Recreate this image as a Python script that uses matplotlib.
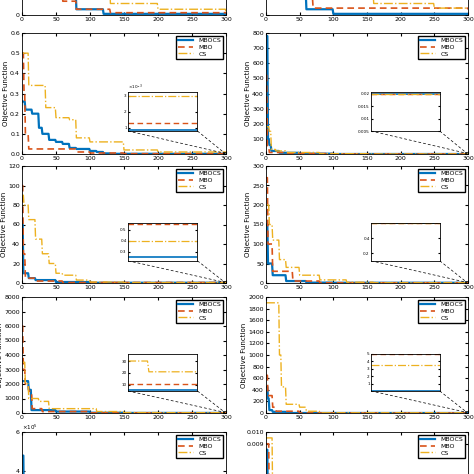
import matplotlib
matplotlib.use("Agg")
import matplotlib.pyplot as plt
import numpy as np

BLUE = "#0072BD"
RED = "#D95319"
YEL = "#EDB120"

plt.rcParams.update({
    "font.family": "DejaVu Sans",
    "xtick.labelsize": 4.5,
    "ytick.labelsize": 4.5,
    "axes.linewidth": 0.6,
    "xtick.direction": "in",
    "ytick.direction": "in",
    "xtick.major.size": 2,
    "ytick.major.size": 2,
})

# (iteration, value) breakpoints of the convergence curves, per panel
panels = [
    # row 0 (cut off at top)
    dict(ylim=(0, 1.0), yticks=[0],
         mbocs=[(0, 2.0), (25, 0.6), (40, 0.35), (50, 0.2), (80, 0.05), (120, 0.01)],
         mbo=[(0, 2.0), (10, 0.9), (25, 0.6), (40, 0.3), (60, 0.12), (80, 0.05), (130, 0.02)],
         cs=[(0, 2.0), (40, 1.5), (90, 0.45), (100, 0.3), (130, 0.1), (200, 0.05), (300, 0.03)],
         inset=None),
    dict(ylim=(0, 1.0), yticks=[0],
         mbocs=[(0, 2.0), (18, 0.7), (30, 0.4), (40, 0.2), (60, 0.05), (100, 0.01)],
         mbo=[(0, 2.0), (12, 0.8), (20, 0.25), (40, 0.15), (70, 0.06), (300, 0.05)],
         cs=[(0, 2.0), (60, 0.8), (90, 0.4), (120, 0.2), (160, 0.1), (250, 0.06)],
         inset=None),
    # row 1
    dict(ylim=(0, 0.6), yticks=[0, 0.1, 0.2, 0.3, 0.4, 0.5, 0.6],
         mbocs=[(0, 0.26), (5, 0.22), (15, 0.2), (25, 0.13), (30, 0.1), (40, 0.07), (50, 0.06),
                (60, 0.05), (70, 0.03), (80, 0.025), (100, 0.015), (110, 0.01), (120, 0.003), (130, 0.001)],
         mbo=[(0, 0.5), (3, 0.3), (5, 0.1), (10, 0.025), (80, 0.01), (100, 0.005), (150, 0.0015)],
         cs=[(0, 0.5), (10, 0.34), (35, 0.23), (50, 0.18), (70, 0.17), (80, 0.08), (100, 0.06),
             (150, 0.02), (200, 0.01), (300, 0.003)],
         inset=(0.0008, 0.0032, [1e-3, 2e-3, 3e-3], ["1", "2", "3"], r"$\times10^{-3}$",
                [(295, 0.00085)], [(295, 0.0013)], [(295, 0.003)])),
    dict(ylim=(0, 800), yticks=[0, 100, 200, 300, 400, 500, 600, 700, 800],
         mbocs=[(0, 780), (3, 100), (5, 60), (8, 20), (20, 8), (50, 2), (100, 0.02)],
         mbo=[(0, 520), (2, 50), (5, 10), (30, 3), (100, 0.02)],
         cs=[(0, 180), (5, 150), (8, 30), (15, 20), (30, 10), (80, 2), (150, 0.02)],
         inset=(0.005, 0.0205, [0.005, 0.01, 0.015, 0.02], ["0.005", "0.01", "0.015", "0.02"], None,
                [(295, 0.02)], [(295, 0.02)], [(295, 0.02)])),
    # row 2
    dict(ylim=(0, 120), yticks=[0, 20, 40, 60, 80, 100, 120],
         mbocs=[(0, 60), (2, 10), (10, 5), (20, 3), (50, 1), (100, 0.25)],
         mbo=[(0, 100), (2, 30), (5, 5), (20, 2), (60, 0.5)],
         cs=[(0, 90), (3, 80), (10, 65), (20, 45), (30, 30), (40, 20), (50, 10), (60, 8),
             (80, 3), (100, 1), (150, 0.4)],
         inset=(0.22, 0.56, [0.3, 0.4, 0.5], ["0.3", "0.4", "0.5"], None,
                [(295, 0.25)], [(295, 0.55)], [(295, 0.4)])),
    dict(ylim=(0, 300), yticks=[0, 50, 100, 150, 200, 250, 300],
         mbocs=[(0, 150), (3, 50), (10, 20), (30, 5), (60, 1), (100, 0.6)],
         mbo=[(0, 270), (3, 100), (10, 30), (40, 5), (80, 0.6)],
         cs=[(0, 200), (5, 150), (10, 110), (20, 60), (30, 40), (50, 20), (80, 8), (120, 2), (160, 0.6)],
         inset=(0.1, 0.6, [0.2, 0.4], ["0.2", "0.4"], None,
                [(295, 0.6)], [(295, 0.6)], [(295, 0.6)])),
    # row 3
    dict(ylim=(0, 8000), yticks=[0, 1000, 2000, 3000, 4000, 5000, 6000, 7000, 8000],
         mbocs=[(0, 2200), (10, 1600), (14, 200), (50, 100), (100, 20), (150, 5)],
         mbo=[(0, 6000), (2, 3000), (5, 2000), (10, 1500), (15, 300), (30, 100), (100, 11)],
         cs=[(0, 3500), (5, 2000), (10, 1000), (25, 800), (40, 300), (110, 100), (150, 30), (200, 21)],
         inset=(5, 36, [10, 20, 30], ["10", "20", "30"], None,
                [(295, 6)], [(295, 11)], [(295, 30), (296.5, 21)])),
    dict(ylim=(0, 2000), yticks=[0, 200, 400, 600, 800, 1000, 1200, 1400, 1600, 1800, 2000],
         mbocs=[(0, 450), (3, 250), (5, 50), (10, 20), (30, 0.5), (60, 0)],
         mbo=[(0, 650), (3, 300), (10, 100), (15, 30), (50, 1), (100, 0)],
         cs=[(0, 1900), (20, 1000), (23, 450), (30, 150), (50, 100), (60, 30), (80, 3.5)],
         inset=(0, 5, [1, 2, 3, 4, 5], ["1", "2", "3", "4", "5"], None,
                [(295, 0)], [(295, 5)], [(295, 3.5)])),
    # row 4 (cut off at bottom)
    dict(ylim=(0, 6e5), yticks=[4e5, 6e5], sci=True,
         mbocs=[(0, 4.8e5), (3, 1e5), (10, 1e4)],
         mbo=[(0, 3e5), (5, 5e4)],
         cs=[(0, 2e5), (10, 5e4)],
         inset=None),
    dict(ylim=(0, 0.01), yticks=[0.009, 0.01],
         mbocs=[(0, 0.0085), (3, 0.002)],
         mbo=[(0, 0.009), (5, 0.003)],
         cs=[(0, 0.0095), (10, 0.004)],
         inset=None),
]

iters = np.arange(0, 301)


def curve(bp):
    xs = np.array([b[0] for b in bp])
    ys = np.array([b[1] for b in bp])
    idx = np.searchsorted(xs, iters, side="right") - 1
    return ys[idx]


W = H = 474
fig = plt.figure(figsize=(4.74, 4.74), dpi=100)
cols = [(22, 226), (266, 468)]
rows = [(-100, 15), (33, 154), (166, 283), (297, 413), (432, 550)]

for i, p in enumerate(panels):
    r, c = divmod(i, 2)
    (x0, x1), (t, b) = cols[c], rows[r]
    ax = fig.add_axes([x0 / W, 1 - b / H, (x1 - x0) / W, (b - t) / H])
    ax.plot(iters, curve(p["mbocs"]), color=BLUE, lw=1.6, label="MBOCS")
    ax.plot(iters, curve(p["mbo"]), color=RED, lw=1.2, ls=(0, (4, 2.5)), label="MBO")
    ax.plot(iters, curve(p["cs"]), color=YEL, lw=1.0, ls="-.", label="CS")
    ax.set_xlim(0, 300)
    ax.set_ylim(*p["ylim"])
    ax.set_xticks([0, 50, 100, 150, 200, 250, 300])
    ax.set_yticks(p["yticks"])
    ax.tick_params(pad=1.5, top=True, right=True)
    if p.get("sci"):
        ax.set_yticklabels([f"{v/1e5:g}" for v in p["yticks"]])
        ax.text(0, 1.0, r"$\times10^{5}$", transform=ax.transAxes, fontsize=4, va="bottom")
    if r in (1, 2, 3):
        ax.set_ylabel("Objective Function", fontsize=5, labelpad=1)
    if r >= 1:
        ax.legend(loc="upper right", fontsize=4.5, handlelength=2.5, borderpad=0.3,
                  labelspacing=0.2, fancybox=False, edgecolor="black", framealpha=1)
    ins = p["inset"]
    if ins is not None:
        lo, hi, tks, tls, expo, ib, ir, iy = ins
        ia = ax.inset_axes([0.52, 0.19, 0.34, 0.32])
        ix = np.linspace(295, 300, 51)
        for bp, col, lw, ls in [(ib, BLUE, 1.2, "-"), (ir, RED, 1.0, (0, (4, 2.5))), (iy, YEL, 0.9, "-.")]:
            xs = np.array([q[0] for q in bp]); ys = np.array([q[1] for q in bp])
            ia.plot(ix, ys[np.searchsorted(xs, ix, side="right") - 1], color=col, lw=lw, ls=ls)
        ia.set_xlim(295, 300)
        ia.set_ylim(lo, hi)
        ia.set_xticks([])
        ia.set_yticks(tks)
        ia.set_yticklabels(tls, fontsize=3)
        ia.tick_params(pad=1, length=1.5, top=True, right=True, labelsize=3)
        if expo:
            ia.text(0, 1.0, expo, transform=ia.transAxes, fontsize=3, va="bottom")
        for px in (0.52, 0.86):
            ax.plot([px, 0.995], [0.19, 0.005], transform=ax.transAxes, color="black",
                    lw=0.5, ls=(0, (4, 3)), clip_on=False)
        ax.plot([0.985, 1, 1, 0.985, 0.985], [0, 0, 0.015, 0.015, 0], transform=ax.transAxes,
                color="black", lw=0.5, clip_on=False)

fig.savefig("out.png", dpi=100, facecolor="white")
